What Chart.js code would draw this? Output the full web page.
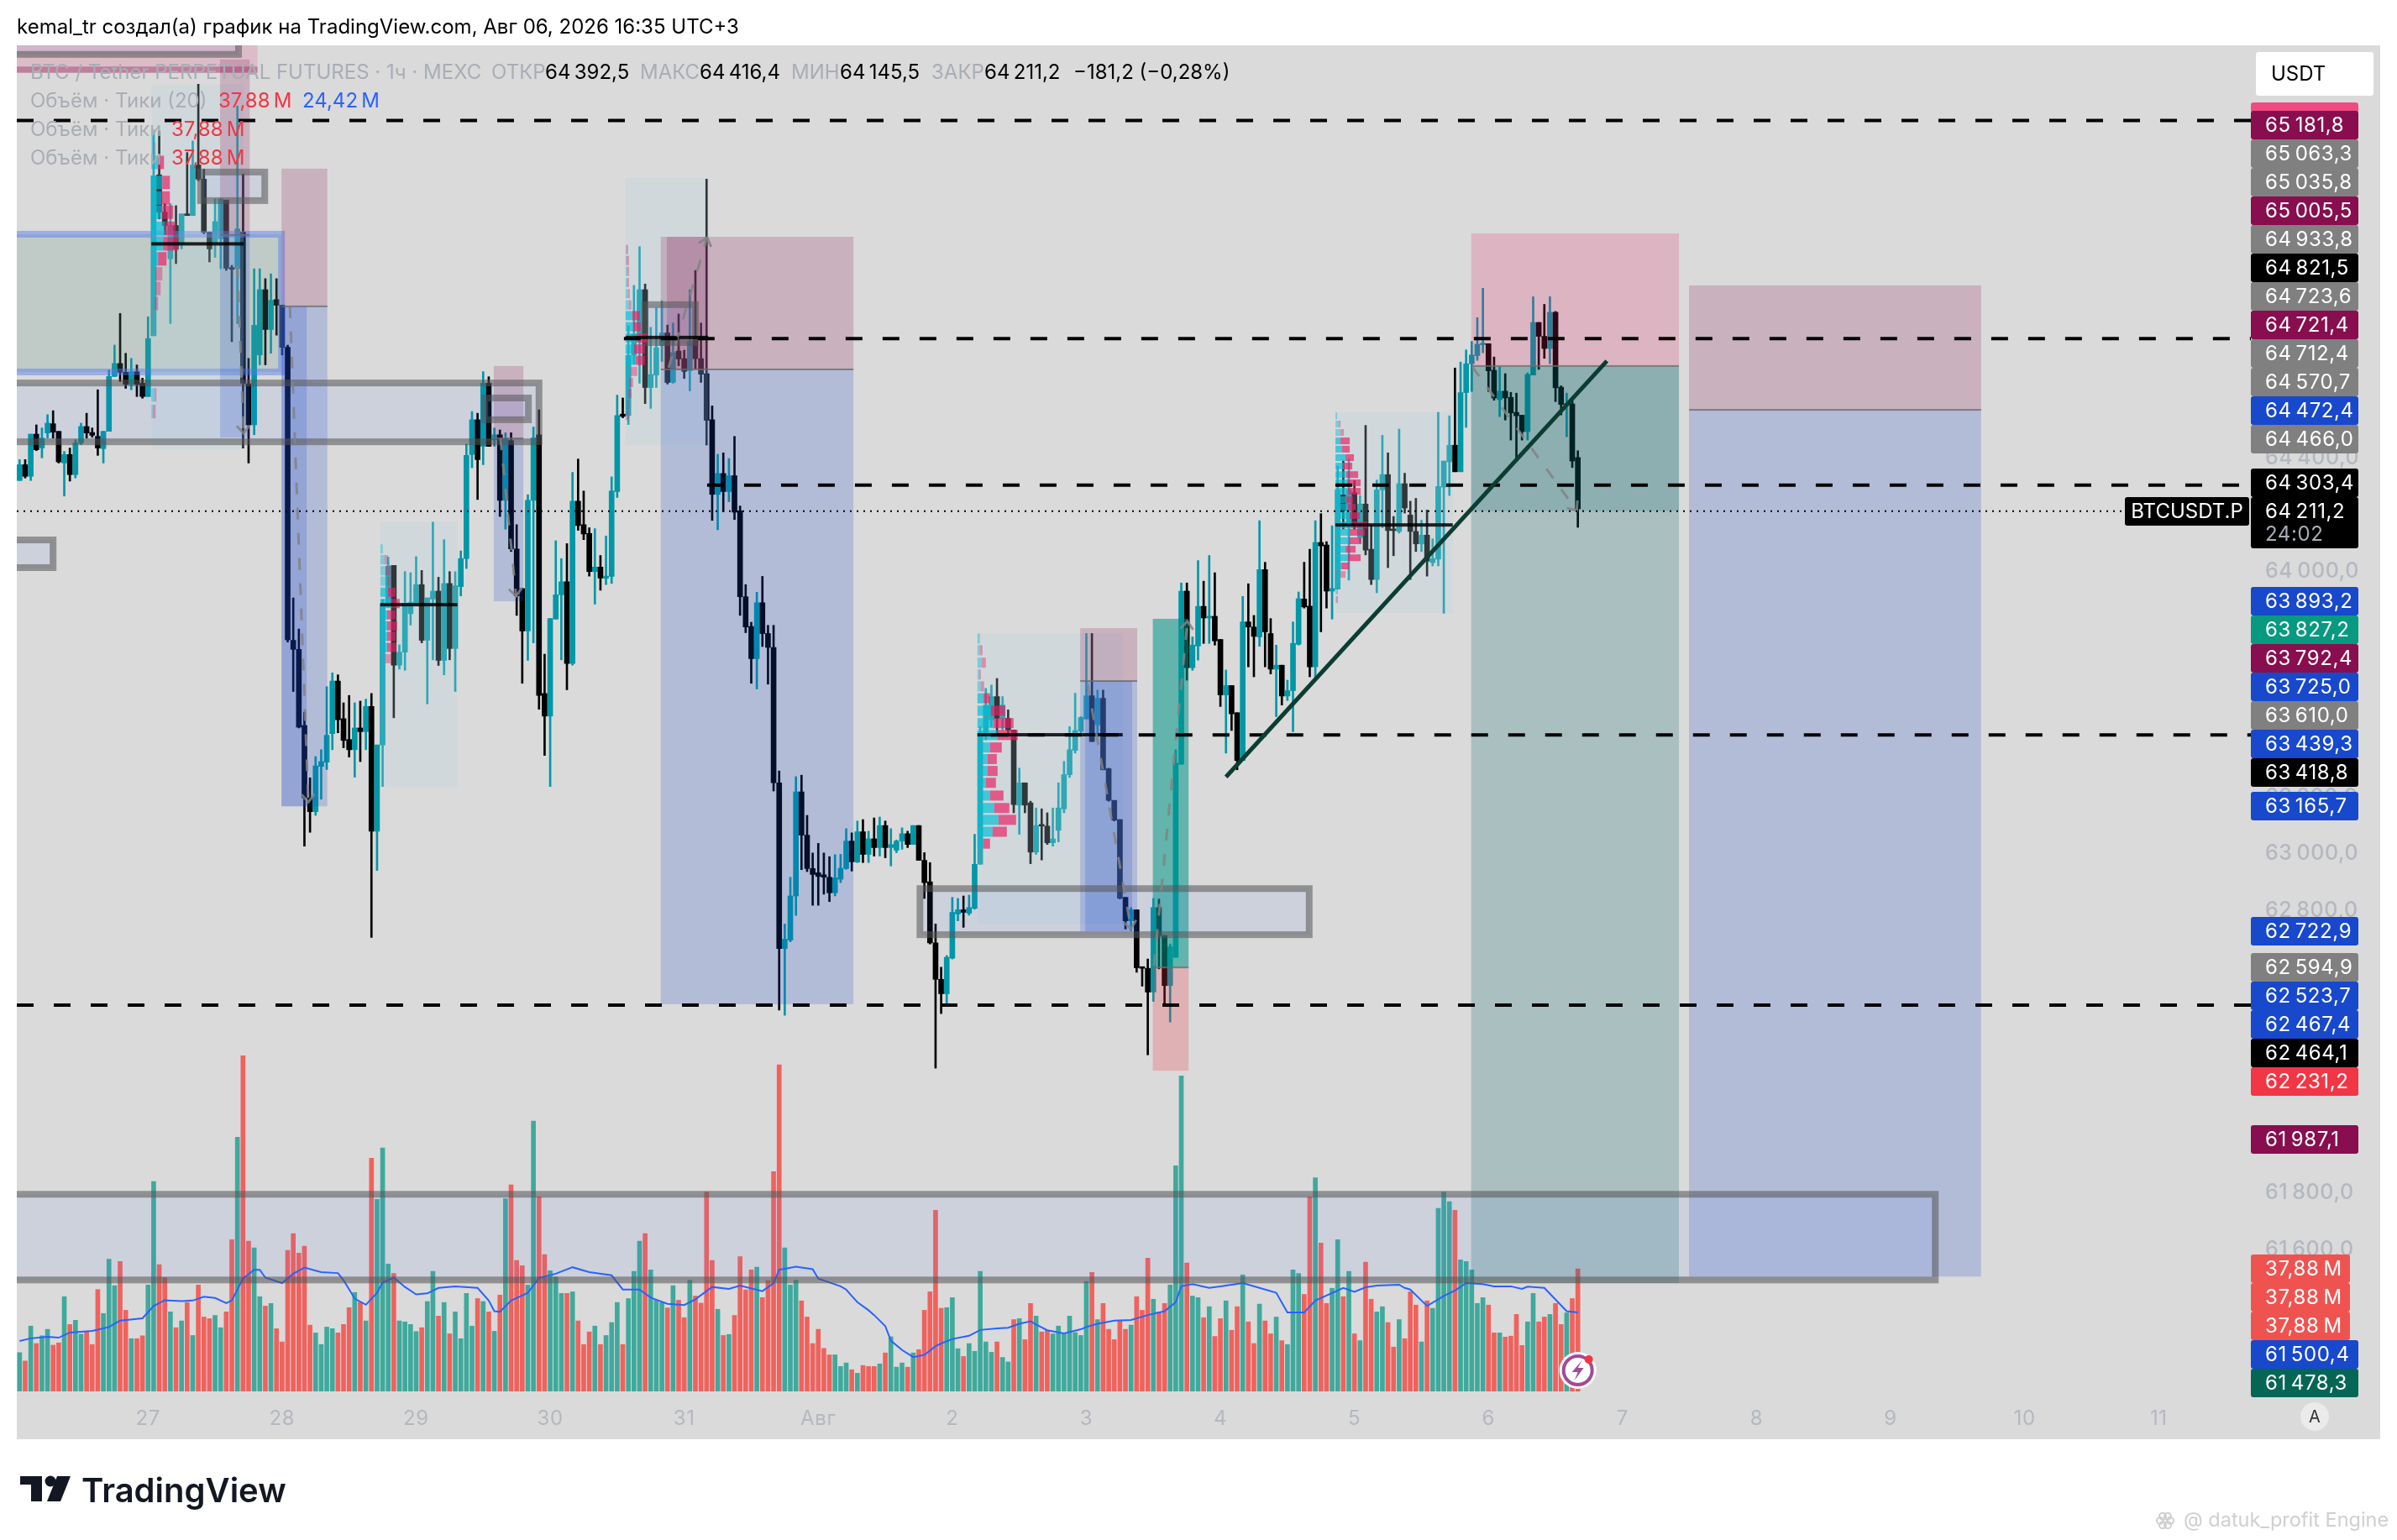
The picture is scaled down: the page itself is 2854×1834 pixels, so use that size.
<!DOCTYPE html>
<html><head><meta charset="utf-8">
<style>html,body{margin:0;padding:0;background:#fff}canvas{display:block}</style>
<script src="https://cdn.jsdelivr.net/npm/chart.js@4"></script>
</head><body><canvas id="c" width="2854" height="1834"></canvas>
<script>
// ---------- data ----------
const slotCount = 400;
const dayTickIdx = [23,47,71,95,119,143,167,191,215,239,263,287,311,335,359,383];
const dayNames = ['27','28','29','30','31','Авг','2','3','4','5','6','7','8','9','10','11'];
const priceTicks = [61600,61800,62000,62200,62400,62600,62800,63000,63200,63400,63600,63800,64000,64200,64400,64600,64800,65000,65200,65400,65600];
const opens = [64311,64367,64326,64475,64426,64479,64512,64485,64373,64403,64332,64444,64502,64481,64467,64424,64485,64679,64725,64694,64651,64696,64655,64608,64823,65392,65260,65095,65213,65148,65254,65248,65427,65377,65189,65148,65166,65303,65062,65060,65189,64653,64508,64755,64986,64845,64951,64931,64782,63746,63714,63445,63189,63140,63300,63315,63416,63602,63469,63395,63359,63436,63423,63512,63071,63376,63876,64011,63658,63704,63840,63876,63943,63746,63892,63920,63675,63947,63717,63936,64035,64403,64526,64432,64655,64455,64473,64241,64453,64069,63929,63779,64241,64473,63558,63478,63821,63907,63953,63664,64238,64155,64124,63989,64005,63965,63972,64272,64546,64541,64754,64828,64986,64640,64684,64788,64833,64658,64769,64742,64699,64818,64742,64689,64526,64262,64336,64272,64328,64204,63900,63795,63681,63879,63770,63721,63242,62656,62686,62842,63210,63057,62939,62924,62917,62908,62853,62901,62939,63036,62962,63069,62989,63044,63013,63091,63013,63004,63036,63062,63024,63091,62968,62892,62676,62547,62496,62622,62778,62793,62781,62798,62954,63418,63465,63547,63470,63470,63429,63163,63242,63171,62997,63095,63089,63030,63074,63150,63271,63357,63425,63468,63550,63447,63541,63292,63180,63112,62837,62754,62793,62590,62586,62502,62801,62702,62525,62625,63308,63920,63649,63726,63866,63825,63831,63749,63553,63586,63490,63321,63811,63793,63758,63996,63770,63644,63658,63549,63568,63732,63892,63867,63652,64092,64083,63920,63927,64260,64150,64268,64110,64228,64068,63961,64278,64332,64139,64131,64300,64189,64131,64087,64118,64021,64033,64288,64377,64436,64342,64622,64724,64753,64791,64795,64701,64597,64627,64605,64552,64542,64484,64684,64870,64821,64778,64906,64641,64578,64582,64392.5];
const closes = [64367,64326,64475,64420,64461,64514,64482,64377,64403,64332,64444,64502,64479,64471,64426,64485,64679,64725,64694,64651,64696,64651,64608,64813,65389,65260,65213,65213,65130,65254,65248,65427,65377,65189,65130,65227,65307,65062,65058,65201,64655,64508,64860,64986,64845,64949,64931,64782,63748,63714,63439,63189,63140,63302,63317,63410,63602,63465,63392,63359,63436,63423,63512,63071,63376,63876,64009,63658,63704,63876,63880,63943,63746,63896,63920,63675,63947,63717,63939,64035,64400,64526,64385,64655,64432,64473,64241,64460,64069,63903,63779,64241,64462,63551,63478,63823,63907,63953,63664,64238,64152,64122,63989,64005,63966,63973,64274,64541,64538,64754,64828,64986,64640,64686,64781,64833,64658,64764,64741,64697,64803,64742,64687,64524,64262,64336,64272,64328,64199,63900,63793,63681,63879,63770,63721,63242,62656,62689,62842,63210,63057,62939,62918,62911,62908,62853,62906,62940,63036,62963,63069,62989,63044,63013,63091,63013,63024,63036,63062,63024,63091,62968,62889,62676,62547,62496,62625,62784,62793,62784,62801,62954,63418,63517,63547,63470,63517,63429,63165,63242,63163,62997,63091,63089,63030,63044,63153,63271,63359,63427,63473,63550,63388,63541,63288,63180,63110,62834,62754,62793,62588,62586,62502,62801,62702,62525,62663,63312,63920,63649,63729,63866,63825,63831,63744,63553,63586,63486,63321,63811,63793,63760,63996,63776,63644,63658,63549,63568,63735,63893,63864,63652,64092,64080,63920,63929,64278,64204,64278,64154,64228,64065,63961,64278,64332,64134,64134,64300,64214,64131,64087,64118,64026,64035,64290,64380,64436,64342,64622,64724,64755,64793,64795,64699,64603,64627,64603,64550,64540,64484,64686,64870,64821,64778,64906,64639,64580,64582,64380,64211.2];
const highs = [64385,64385,64475,64508,64497,64544,64558,64485,64414,64426,64455,64514,64549,64497,64632,64485,64702,64790,64902,64761,64743,64720,64673,64890,65541,65547,65290,65290,65283,65254,65471,65512,65712,65412,65189,65307,65307,65303,65072,65635,65395,64743,65060,65060,65025,65042,65025,64931,64790,63896,63786,63492,63260,63335,63359,63582,63631,63624,63525,63551,63525,63531,63538,63558,63376,63890,64040,64011,63730,63989,63985,64042,63993,63896,64164,63969,64102,63989,63989,64062,64440,64555,64549,64696,64678,64497,64490,64480,64480,64155,63929,64261,64500,64561,63697,63823,64098,64035,64088,64340,64387,64274,64144,64141,64046,64115,64324,64613,64603,64858,65001,65138,65006,64853,64922,64947,64861,64868,64900,64772,64986,65054,64868,65377,64575,64404,64409,64389,64467,64221,63943,63810,63916,63972,63799,63799,63284,62743,62908,63264,63269,63127,62994,63028,62994,62981,62988,62989,63080,63065,63107,63112,63071,63118,63121,63107,63080,63040,63083,63071,63091,63091,62995,62960,62743,62590,62631,62837,62833,62842,62845,63060,63441,63576,63588,63611,63547,63500,63429,63294,63242,63177,63153,63150,63136,63153,63242,63318,63441,63559,63476,63770,63770,63570,63570,63294,63180,63112,62837,62801,62793,62590,62619,62833,62831,62702,62672,63359,63949,63949,63758,64028,63955,64046,63985,63749,63641,63586,63490,63901,63946,63834,64169,64022,63823,63729,63658,63605,63811,63917,64022,64068,64169,64194,64095,64151,64362,64380,64387,64310,64258,64506,64154,64313,64471,64409,64184,64493,64337,64238,64248,64171,64207,64105,64552,64380,64540,64709,64730,64773,64803,64887,64991,64795,64748,64712,64689,64623,64620,64542,64692,64961,64870,64934,64961,64909,64646,64620,64600,64416.4];
const lows = [64311,64320,64311,64417,64391,64461,64461,64373,64256,64309,64320,64438,64461,64464,64400,64373,64485,64679,64661,64637,64632,64608,64602,64608,64823,65236,65180,64866,65078,65130,65248,65248,65371,65183,65084,65100,65060,65054,64802,64866,64426,64373,64473,64720,64720,64761,64825,64755,63740,63565,63436,63018,63067,63127,63184,63289,63359,63419,63366,63333,63262,63317,63359,62695,62932,63229,63863,63472,63644,63640,63800,63870,63737,63521,63677,63657,63624,63677,63565,63903,64000,64356,64244,64367,64432,64432,64184,64139,64060,63834,63594,63675,63737,63502,63339,63229,63821,63677,63571,63658,64135,64102,63973,63874,63923,63943,63947,64251,64533,64509,64724,64655,64583,64566,64640,64732,64652,64655,64717,64672,64628,64707,64658,64437,64170,64137,64201,64236,64173,63834,63773,63594,63574,63724,63591,63213,62438,62420,62680,62773,62935,62928,62809,62809,62848,62822,62842,62889,62936,62930,62960,62960,62960,62983,62983,62977,62948,62995,63007,63013,63024,62968,62833,62672,62233,62426,62455,62619,62754,62731,62774,62795,62954,63394,63440,63418,63429,63406,63136,63060,63136,62956,62989,62969,63024,63018,63033,63136,63261,63347,63418,63468,63388,63406,63288,63177,63107,62831,62725,62719,62572,62523,62280,62469,62584,62455,62396,62625,63308,63605,63640,63676,63735,63735,63729,63512,63347,63427,63288,63321,63652,63617,63725,63652,63627,63476,63517,63533,63423,63729,63860,63617,63608,63776,63860,63821,63927,64139,63959,64139,64090,64048,63943,63914,64144,64003,64045,64125,64196,63961,64060,64060,63973,64009,64009,63842,64258,64342,64342,64499,64626,64736,64763,64626,64595,64537,64525,64454,64387,64454,64454,64684,64704,64743,64724,64590,64543,64466,64357,64145.5];
const volumes = [12.0,9.4,20.2,14.8,17.2,19.2,14.3,15.0,29.3,20.7,22.0,17.7,18.5,14.5,31.5,24.1,40.9,32.7,40.2,25.1,16.3,16.3,17.2,32.9,64.9,39.2,35.2,24.6,19.7,21.8,27.5,17.3,32.9,23.0,22.5,23.5,19.7,24.6,46.9,78.6,103.8,46.5,44.4,29.3,26.4,27.2,19.4,15.3,43.6,48.8,42.8,44.9,20.5,18.1,14.5,19.9,19.4,18.1,20.7,25.9,30.6,27.6,21.8,72.1,59.4,75.3,39.4,36.5,21.8,21.5,20.7,18.5,19.7,27.8,37.1,23.3,27.5,17.8,24.6,16.3,30.3,20.2,28.7,27.8,24.6,18.6,29.8,59.6,63.9,40.5,38.9,32.9,83.6,60.2,42.3,37.3,35.4,30.3,30.3,30.8,21.8,14.5,18.4,20.2,14.5,17.3,21.3,27.5,14.5,28.7,37.1,46.5,48.8,37.6,28.2,27.5,25.8,32.7,28.2,22.8,34.4,29.5,27.3,61.7,40.5,25.4,17.3,17.6,23.5,41.7,31.4,37.6,38.4,29.0,34.3,68.0,101.0,44.4,32.9,34.4,28.0,23.0,14.8,19.2,13.3,11.3,11.3,7.7,8.8,6.7,5.6,8.0,7.7,7.7,8.5,11.9,16.9,7.5,8.8,7.5,11.9,12.9,25.1,30.8,56.0,25.7,25.9,29.0,13.2,10.8,14.8,12.4,37.1,15.3,12.1,15.3,10.5,9.1,22.2,22.5,16.0,27.2,23.3,18.4,18.9,17.8,20.2,17.8,23.3,18.2,17.3,34.0,36.8,22.2,27.2,19.2,16.0,21.8,19.2,20.5,29.3,25.1,41.2,28.5,24.6,27.2,32.9,69.8,97.6,39.7,29.5,29.0,22.8,26.2,17.0,22.5,28.0,18.9,26.2,36.0,21.5,14.8,27.0,21.8,17.8,23.0,15.7,14.5,37.6,36.5,30.0,60.2,66.1,45.9,27.2,31.9,46.9,29.3,37.1,17.8,15.7,40.0,28.5,24.6,26.2,21.3,13.7,22.2,16.3,30.8,26.7,15.3,28.0,25.7,56.6,61.7,58.7,56.0,40.7,40.2,37.6,27.2,29.0,26.7,18.1,18.1,16.8,17.1,23.8,14.2,21.5,30.3,21.5,23.0,23.8,27.2,20.7,24.3,28.7,37.88];
const volumeSides = ['grgrggrrgr','ggrrrgggrr','grrggrrgrg','rgrrrggrrg','rrggrgrrrr','rrrggggrrr','grgrgggrgg','ggrggrgrgg','ggrgrgrgrr','rggrrgggrg','rrrgrgggrg','ggrgggrgrr','grrrrgrgrr','rrgrrrrggg','rrrrrrgggr','grrrgrgggr','grrrrrgggr','gggggrggrg','rrgrrggggg','ggrgrrrrrg','rrrgrrgggr','ggrgrrgrrg','rrgrrgrggg','rrgrrggrgr','grrggrrgrr','rgrggggrgg','gggrrgrrrr','ggrrgrrgrr'].join('');
const maIndex = [0,2,5,7,9,13,16,18,22,24,26,29,31,33,35,37,38,40,42,43,44,47,49,51,54,57,58,60,62,64,65,67,69,71,73,75,78,82,84,85,86,88,91,93,96,99,102,106,108,111,113,116,119,121,124,127,129,133,135,136,139,142,143,147,148,149,150,152,153,155,156,158,160,162,164,165,167,170,172,175,177,179,181,182,184,187,190,191,193,196,199,202,205,207,208,210,213,215,219,222,225,227,230,232,237,239,241,243,247,248,249,252,255,257,259,262,264,267,269,270,273,277,279];
const maValue = [15.6,16.4,16.9,16.6,18.2,18.7,19.9,21.9,22.6,26.4,28.2,27.9,28.1,29.3,28.9,27.3,28.1,34.9,37.6,37.6,35.2,33.5,36.4,38.3,36.9,36.6,34.4,28.7,26.8,30.5,33.7,35.2,32.3,30.0,30.3,32.0,32.5,32.0,28.1,24.8,24.6,28.1,30.5,35.1,36.4,38.4,36.9,35.9,31.5,31.5,29.0,27.1,26.7,28.5,32.3,31.7,32.7,31.0,33.5,37.6,38.6,37.8,34.9,32.5,31.5,29.5,27.6,25.1,23.6,20.2,15.7,12.8,10.6,11.3,14.0,14.8,16.2,17.2,19.0,19.5,19.7,20.9,21.7,20.7,18.9,17.9,19.2,19.9,20.9,21.9,22.1,23.6,24.8,27.6,32.5,33.2,32.0,32.5,33.5,32.0,30.5,24.4,24.4,28.1,32.0,30.8,32.2,32.7,33.0,32.0,31.5,26.4,29.5,31.2,33.5,33.2,32.5,32.5,31.7,32.4,32.0,24.8,24.4];

// price tags on the right axis (value, kind)
const tagValues = [65181.8,65063.3,65035.8,65005.5,64933.8,64821.5,64723.6,64721.4,64712.4,64570.7,64472.4,64466.0,64303.4,64211.2,63893.2,63827.2,63792.4,63725.0,63610.0,63439.3,63418.8,63165.7,62722.9,62594.9,62523.7,62467.4,62464.1,62231.2,61987.1,61500.4,61478.3];
const tagKinds = ['m','g','g','m','g','k','g','m','g','g','b','g','k','k','b','t','m','b','g','b','k','b','b','g','b','b','k','r','m','b','d'];
const tagTops = [132,166,200,234,268,302,336,370,404,438,472,506,558,592,699,733,767,801,835,869,903,943,1092,1135,1169,1203,1237,1271,1340,1596,1630];
const volumeTags = [37.88,37.88,37.88];
const volumeTagTops = [1494,1528,1562];

// horizontal dashed levels: price, first index
const levelPrices = [65584,64813,64295,63411,62456];
const levelStarts = [-2,108.2,123.1,173.9,-2];
const lastPrice = 64211.2;
const lastPriceLine = 64203;

// position tools: i0,i1,top,mid,bottom
const positionsI0 = [35.9,46.9,84.9,114.8,189.9,202.9,259.9,298.9];
const positionsI1 = [41.2,55.1,90.2,149.3,200.1,209.3,297.1,351.2];
const positionsTop = [65800,65414,64716,65173,63789,63822,65185,65001];
const positionsMid = [65179,64927,64460,64704,63602,62589,64716,64561];
const positionsLow = [64463,63159,63884,62459,62717,62224,61473,61496];
// rectangles with thick grey borders: i0,i1,top,bottom
const greyBoxes = [[-3,39.2,66000,65818],[-3,93.0,64656,64448],[32.4,43.9,65402,65301],[-3,6.0,64101,64003],[83.3,91.1,64603,64526],[112,121,64933,64799],[161.2,230.9,62868,62705],[-3,343,61787,61484]];
// volume-profile panels: i0,i1,top,bottom,POC
const vpI0 = [23.6,64.6,108.5,171.5,235.6];
const vpI1 = [40.1,78.4,123.3,197.5,256.6];
const vpTop = [65711,64166,65381,63771,64552];
const vpBottom = [64419,63228,64437,62744,63843];
const vpPoc = [65148,63872,64817,63412,64154];
const vp1Prices=[65530,65483,65436,65365,65310,65260,65203,65148,65095,65042,64990,64937,64614,64555];
const vp1Up=[4,4,8,13,12,13,16,14,8,5,5,4,4,2];
const vp1Down=[0,1,7,9,10,13,13,18,10,8,6,4,2,3];
const vp2Prices=[64069,64031,63992,63955,63916,63876,63836,63797,63760,63721,63681,63642,63602,63562,63399];
const vp2Up=[3,5,6,8,9,13,8,8,8,8,6,5,5,4,3];
const vp2Down=[0,4,6,4,9,10,10,12,10,11,7,0,0,0,0];
const vp3Prices=[65128,65089,65051,65011,64972,64932,64894,64855,64815,64776,64736,64697,64658,64618,64578,64541];
const vp3Up=[1,1,2,2,3,4,8,9,13,10,12,6,4,3,2,1];
const vp3Down=[2,3,2,2,2,3,9,9,13,13,11,8,5,4,2,3];
const vp4Prices=[63752,63711,63667,63625,63583,63541,63497,63453,63411,63367,63326,63284,63242,63197,63153,63111,63069,63027];
const vp4Up=[3,3,5,2,4,7,16,19,24,15,12,12,10,15,20,25,18,7];
const vp4Down=[0,3,5,2,4,8,17,24,24,14,11,12,12,16,18,21,17,8];
const vp5Prices=[64540,64511,64481,64451,64422,64392,64362,64332,64303,64273,64243,64217,64187,64154,64128,64098,64068,64038,64009,63979,63949,63920,63890];
const vp5Up=[2,4,6,6,8,12,10,13,14,15,13,15,17,19,17,16,12,15,7,6,6,2,1];
const vp5Down=[0,2,4,11,9,10,10,14,16,15,8,9,12,19,18,15,12,15,9,6,0,1,2];
// grey forecast arrows: i0,p0,i1,p1
const forecastPaths=[[39.0,65072,40.1,64478],[48.4,64927,51.7,63174],[86.1,64460,88.9,63902],[116.2,64710,123.1,65170],[191.2,63593,199.0,62726],[203.1,62595,209.1,63813],[260.1,64713,278.8,64205]];
const trendLine=[216.0,63263,284.2,64734];

// ---------- styles / layout (not data) ----------
const FONT='Inter, "Noto Sans", sans-serif';
const TEAL='#0097a7', BLACK='#000000';
const tagColor={m:'#880e4f',g:'#808080',k:'#000000',b:'#1848cc',t:'#089981',r:'#f23645',d:'#056656'};
const fmtPrice=v=>{const s=v.toFixed(1).replace('.',',');return s.slice(0,2)+'\u2009'+s.slice(2);};

const categories=Array.from({length:slotCount},(_,i)=>String(i));
const wickData=highs.map((h,i)=>[lows[i],h]);
const bodyData=opens.map((o,i)=>[o,closes[i]]);
const candleCol=opens.map((o,i)=>closes[i]>=o?TEAL:BLACK);
const volCol=volumes.map((_,i)=>volumeSides[i]==='g'?'#3fa99c':'#f0625d');
const maSeries=new Array(280).fill(null);
maIndex.forEach((ix,k)=>{maSeries[ix]=maValue[k];});
const dayLookup={};dayTickIdx.forEach((ix,k)=>{dayLookup[ix]=dayNames[k];});

const overlays={id:'overlays',
 beforeDraw(ch){const c=ch.ctx;c.save();c.fillStyle='#fff';c.fillRect(0,0,2854,1834);c.fillStyle='#dadada';c.fillRect(20,54,2814,1660);c.restore();c.letterSpacing='0.6px';},
 afterDatasetsDraw(ch){
  const c=ch.ctx,a=ch.chartArea,X=v=>ch.scales.x.getPixelForValue(v),Y=v=>ch.scales.y.getPixelForValue(v);
  c.save();c.beginPath();c.rect(a.left,a.top,a.right-a.left,a.bottom-a.top);c.clip();
  const fill=(i0,i1,t,b,col)=>{c.fillStyle=col;c.fillRect(X(i0),Y(t),X(i1)-X(i0),Y(b)-Y(t));};
  fill(-3,42.6,66000,65753,'rgba(233,30,99,.16)');
  fill(-3,42.6,65775,65753,'rgba(136,14,79,.35)');
  c.fillStyle='rgba(100,150,130,.22)';c.fillRect(X(-3),Y(65182),X(46.9)-X(-3),Y(64695)-Y(65182));
  c.strokeStyle='rgba(80,120,240,.45)';c.lineWidth=8;c.strokeRect(X(-3),Y(65182),X(46.9)-X(-3),Y(64695)-Y(65182));
  vpI0.forEach((v,k)=>fill(v,vpI1[k],vpTop[k],vpBottom[k],'rgba(180,214,226,.26)'));
  const kinds=[0,0,0,0,0,1,2,0];
  positionsI0.forEach((v,k)=>{
   const i1=positionsI1[k],t=positionsTop[k],m=positionsMid[k],b=positionsLow[k],kd=kinds[k];
   if(kd===0){fill(v,i1,t,m,'rgba(136,14,79,.2)');fill(v,i1,m,b,'rgba(24,72,204,.2)');}
   if(kd===1){fill(v,i1,t,m,'rgba(0,150,136,.55)');fill(v,i1,m,b,'rgba(242,54,69,.25)');}
   if(kd===2){fill(v,i1,t,m,'rgba(233,30,99,.2)');fill(v,i1,m,b,'rgba(0,96,100,.22)');fill(v,i1,m,lastPriceLine,'rgba(0,100,110,.17)');}
   c.fillStyle='rgba(110,110,110,.8)';c.fillRect(X(v),Y(m)-1,X(i1)-X(v),2);
  });
  fill(46.9,51.4,64927,63159,'rgba(24,72,204,.2)');
  fill(190.8,199.2,63602,62717,'rgba(24,72,204,.2)');
  fill(115.9,123.1,65173,64704,'rgba(136,14,79,.2)');
  greyBoxes.forEach(b=>{
   const x=X(b[0]),y=Y(b[2]),w=X(b[1])-x,h=Y(b[3])-y;
   c.fillStyle='rgba(60,120,255,.08)';c.fillRect(x,y,w,h);
   c.strokeStyle='rgba(85,85,85,.55)';c.lineWidth=8;c.strokeRect(x,y,w,h);
  });
  const rows=[[vp1Prices,vp1Up,vp1Down,16],[vp2Prices,vp2Up,vp2Down,11],[vp3Prices,vp3Up,vp3Down,11],[vp4Prices,vp4Up,vp4Down,12],[vp5Prices,vp5Up,vp5Down,8]];
  rows.forEach((r,k)=>{
   const x0=X(vpI0[k]);
   r[0].forEach((p,j)=>{
    const u=r[1][j],d=r[2][j],y=Y(p)-r[3]/2,al=(u+d)>=15?.68:.4;
    c.fillStyle=`rgba(0,188,212,${al})`;c.fillRect(x0,y,u,r[3]);
    c.fillStyle=`rgba(233,30,99,${al})`;c.fillRect(x0+u,y,d,r[3]);
   });
   c.fillStyle='rgba(0,0,0,.85)';c.fillRect(x0,Y(vpPoc[k])-2,X(vpI1[k])-x0,4);
  });
  c.lineWidth=3;c.strokeStyle='rgba(130,130,130,.85)';
  forecastPaths.forEach(f=>{
   const x0=X(f[0]),y0=Y(f[1]),x1=X(f[2]),y1=Y(f[3]);
   c.setLineDash([14,16]);c.beginPath();c.moveTo(x0,y0);c.lineTo(x1,y1);c.stroke();c.setLineDash([]);
   const ang=Math.atan2(y1-y0,x1-x0);
   c.beginPath();c.moveTo(x1-12*Math.cos(ang-.7),y1-12*Math.sin(ang-.7));c.lineTo(x1,y1);c.lineTo(x1-12*Math.cos(ang+.7),y1-12*Math.sin(ang+.7));c.stroke();
  });
  c.strokeStyle='#000';c.lineWidth=4;c.setLineDash([20,24]);
  levelPrices.forEach((p,k)=>{c.beginPath();c.moveTo(Math.max(X(levelStarts[k]),a.left),Y(p));c.lineTo(a.right,Y(p));c.stroke();});
  c.lineWidth=2;c.setLineDash([2,6]);c.beginPath();c.moveTo(a.left,Y(lastPriceLine));c.lineTo(a.right,Y(lastPriceLine));c.stroke();c.setLineDash([]);
  c.strokeStyle='#0b3d33';c.lineWidth=5;c.beginPath();c.moveTo(X(trendLine[0]),Y(trendLine[1]));c.lineTo(X(trendLine[2]),Y(trendLine[3]));c.stroke();
  c.restore();
 },
 afterDraw(ch){
  const c=ch.ctx;c.save();c.textBaseline='middle';
  const txt=(s,x,y,col,size=24,w='400',al='left',ls='0px')=>{c.letterSpacing=ls;c.font=`${w} ${size}px ${FONT}`;c.fillStyle=col;c.textAlign=al;c.fillText(s,x,y);};
  txt('kemal_tr создал(а) график на TradingView.com, Авг 06, 2026 16:35 UTC+3',20,33,'#000',24);
  const G='#a9adb5';
  txt('BTC / Tether PERPETUAL FUTURES · 1ч · MEXC',36,87,G,24);
  txt('ОТКР',585,87,G,24);txt(fmtPrice(64392.5),649,87,'#000',24);
  txt('МАКС',762,87,G,24);txt(fmtPrice(64416.4),833,87,'#000',24);
  txt('МИН',942,87,G,24);txt(fmtPrice(64145.5),1000,87,'#000',24);
  txt('ЗАКР',1109,87,G,24);txt(fmtPrice(64211.2),1172,87,'#000',24);
  txt('−181,2 (−0,28%)',1278,87,'#000',24);
  txt('Объём · Тики (20)',36,121,G,24);txt('37,88\u2009M',260,121,'#f23645',24);txt('24,42\u2009M',360,121,'#2962ff',24);
  txt('Объём · Тики',36,155,G,24);txt('37,88\u2009M',204,155,'#f23645',24);
  txt('Объём · Тики',36,189,G,24);txt('37,88\u2009M',204,189,'#f23645',24);
  const rr=(x,y,w,h,col)=>{c.fillStyle=col;c.beginPath();c.roundRect(x,y,w,h,3);c.fill();};
  rr(2680,122,128,12,'#ef4b81');
  tagValues.forEach((v,k)=>{
   const big=v===lastPrice,h=big?61:34,top=tagTops[k];
   rr(2680,top,128,h,tagColor[tagKinds[k]]);
   txt(fmtPrice(v),2697,top+18,'#fff',24,'400','left','0.6px');
   if(big)txt('24:02',2697,top+45,'#a9adb5',24,'400','left','0.6px');
  });
  volumeTags.forEach((v,k)=>{rr(2680,volumeTagTops[k],118,34,'#ef5350');txt(v.toFixed(2).replace('.',',')+'\u2009M',2697,volumeTagTops[k]+18,'#fff',24,'400','left','0.6px');});
  rr(2530,592,148,34,'#000');txt('BTCUSDT.P',2604,610,'#fff',24,'400','center');
  rr(2686,62,140,52,'#fff');txt('USDT',2704,89,'#000',24);
  c.fillStyle='#ebebeb';c.beginPath();c.arc(2756,1687,17,0,Math.PI*2);c.fill();txt('A',2756,1688,'#333',20,'400','center');
  const bx=ch.scales.x.getPixelForValue(279),by=1632;
  c.fillStyle='#fff';c.beginPath();c.arc(bx,by,22,0,Math.PI*2);c.fill();
  c.strokeStyle='#a04c96';c.lineWidth=4;c.beginPath();c.arc(bx,by,17,0,Math.PI*2);c.stroke();
  c.fillStyle='#a04c96';c.beginPath();c.moveTo(bx+5,by-12);c.lineTo(bx-7,by+2);c.lineTo(bx,by+2);c.lineTo(bx-4,by+12);c.lineTo(bx+7,by-3);c.lineTo(bx,by-3);c.closePath();c.fill();
  c.fillStyle='#f23645';c.beginPath();c.arc(bx+13,by-13,5,0,Math.PI*2);c.fill();
  c.fillStyle='#131722';
  c.fillRect(24,1758,26,10);c.fillRect(37,1758,13,30);
  c.beginPath();c.arc(60,1764,6.5,0,Math.PI*2);c.fill();
  c.beginPath();c.moveTo(68,1758);c.lineTo(84,1758);c.lineTo(72,1788);c.lineTo(56,1788);c.closePath();c.fill();
  txt('TradingView',97,1777,'#131722',40,'600');
  c.strokeStyle='#cfcfcf';c.lineWidth=2;
  for(let a=0;a<6;a++){c.beginPath();c.arc(2578+6*Math.cos(a*Math.PI/3),1811+6*Math.sin(a*Math.PI/3),4,0,Math.PI*2);c.stroke();}
  txt('@ datuk_profit Engine',2600,1811,'#cfcfcf',23.5);
  c.restore();
 }};

new Chart(document.getElementById('c'),{
 type:'bar',
 data:{labels:categories,datasets:[
  {type:'line',label:'Объём MA',data:maSeries,yAxisID:'v',borderColor:'#2962ff',borderWidth:2,pointRadius:0,spanGaps:true,tension:0,order:1},
  {label:'Тело',data:bodyData,yAxisID:'y',backgroundColor:candleCol,barThickness:6,grouped:false,minBarLength:2,order:2},
  {label:'Тень',data:wickData,yAxisID:'y',backgroundColor:candleCol,barThickness:2,grouped:false,order:3},
  {label:'Объём',data:volumes,yAxisID:'v',backgroundColor:volCol,barThickness:5,grouped:false,order:4}
 ]},
 options:{responsive:false,animation:false,devicePixelRatio:1,
  layout:{padding:{left:20,right:20,top:54,bottom:120}},
  plugins:{legend:{display:false},tooltip:{enabled:false}},
  scales:{
   x:{type:'category',offset:true,grid:{display:false,drawTicks:false},border:{display:false},
      afterBuildTicks(s){s.ticks=dayTickIdx.map(k=>({value:k}));},
      afterFit(s){s.height=57;},
      ticks:{autoSkip:false,maxRotation:0,minRotation:0,padding:18,color:'#b4b8bf',font:{family:FONT,size:24},callback:v=>dayLookup[v]||''}},
   y:{position:'right',min:61090,max:65850,grid:{display:false,drawTicks:false},border:{display:false},
      afterBuildTicks(s){s.ticks=priceTicks.map(v=>({value:v}));},
      afterFit(s){s.width=154;},
      ticks:{padding:17,labelOffset:3,color:'#b4b8bf',font:{family:FONT,size:25,weight:'500'},callback:v=>fmtPrice(v)}},
   v:{display:false,min:0,max:416.4}
  }},
 plugins:[overlays]
});
</script></body></html>
